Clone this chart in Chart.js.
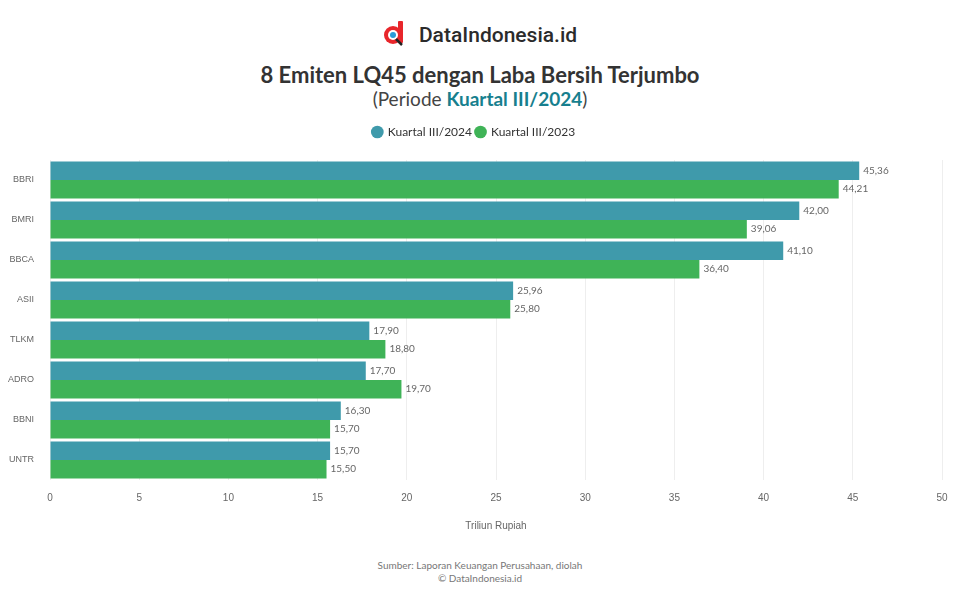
<!DOCTYPE html>
<html>
<head>
<meta charset="utf-8">
<script src="https://cdn.jsdelivr.net/npm/chart.js@4"></script>
<style>
  html, body { margin: 0; padding: 0; background: #fff; width: 960px; height: 600px; overflow: hidden; font-family: Lato, "Open Sans", sans-serif; }
  #brand { position: absolute; top: 21px; left: 0; width: 960px; text-align: center; font-family: Roboto, sans-serif; font-weight: 500; font-size: 21px; color: #2b2b2b; }
  #brand svg { vertical-align: -5px; margin-right: 12px; }
  #title { position: absolute; top: 61px; left: 0; width: 960px; text-align: center; font-weight: 700; font-size: 22px; color: #333; }
  #subtitle { position: absolute; top: 87px; left: 0; width: 960px; text-align: center; font-size: 19px; color: #444; }
  #subtitle b { color: #177f8e; }
  #wrap { position: absolute; top: 120px; left: 0; width: 960px; height: 416px; }
  #footer { position: absolute; top: 559px; left: 0; width: 960px; text-align: center; font-size: 10px; color: #777; line-height: 13px; }
</style>
</head>
<body>
<div id="brand"><svg width="24" height="26" viewBox="0 0 24 26"><rect x="15" y="0" width="5" height="22" rx="1" fill="#e8262b"/><circle cx="10" cy="14" r="9" fill="#e8262b"/><circle cx="10" cy="14" r="5" fill="#fff"/><circle cx="10" cy="14" r="3" fill="#2a9bd8"/><line x1="13" y1="18" x2="19" y2="24" stroke="#222" stroke-width="2.5"/></svg>DataIndonesia.id</div>
<div id="title">8 Emiten LQ45 dengan Laba Bersih Terjumbo</div>
<div id="subtitle">(Periode <b>Kuartal III/2024</b>)</div>
<div id="wrap"><canvas id="c"></canvas></div>
<div id="footer">Sumber: Laporan Keuangan Perusahaan, diolah<br>© DataIndonesia.id</div>
<script>
const categories = ["BBRI", "BMRI", "BBCA", "ASII", "TLKM", "ADRO", "BBNI", "UNTR"];
const series2024 = [45.36, 42.0, 41.1, 25.96, 17.9, 17.7, 16.3, 15.7];
const series2023 = [44.21, 39.06, 36.4, 25.8, 18.8, 19.7, 15.7, 15.5];
const seriesNames = ["Kuartal III/2024", "Kuartal III/2023"];
const xTicks = [0, 5, 10, 15, 20, 25, 30, 35, 40, 45, 50];

const labelPlugin = {
  id: 'valLabels',
  afterDatasetsDraw(chart) {
    const ctx = chart.ctx;
    ctx.save();
    ctx.font = '10px Lato, sans-serif';
    ctx.fillStyle = '#666';
    ctx.textBaseline = 'middle';
    ctx.textAlign = 'left';
    chart.data.datasets.forEach((ds, i) => {
      const meta = chart.getDatasetMeta(i);
      meta.data.forEach((bar, j) => {
        const v = ds.data[j];
        ctx.fillText(v.toFixed(2).replace('.', ','), bar.x + 4, bar.y);
      });
    });
    ctx.restore();
  }
};

const legendMargin = {
  id: 'legendMargin',
  beforeInit(chart) {
    const orig = chart.legend.fit;
    chart.legend.fit = function () { orig.bind(chart.legend)(); this.height += 12; };
  }
};

new Chart(document.getElementById('c'), {
  type: 'bar',
  data: {
    labels: categories,
    datasets: [
      { label: seriesNames[0], data: series2024, backgroundColor: '#3f9aab', borderWidth: 0 },
      { label: seriesNames[1], data: series2023, backgroundColor: '#3fb357', borderWidth: 0 }
    ]
  },
  options: {
    indexAxis: 'y',
    responsive: true,
    maintainAspectRatio: false,
    animation: false,
    layout: { padding: { left: 6, right: 18, top: 2, bottom: 0 } },
    datasets: { bar: { categoryPercentage: 0.92, barPercentage: 1.0 } },
    plugins: {
      legend: {
        position: 'top',
        labels: {
          usePointStyle: true, pointStyle: 'circle', boxWidth: 9, boxHeight: 9,
          padding: 4, color: '#333', font: { size: 12, family: 'Lato, sans-serif' }
        }
      },
      tooltip: { enabled: false }
    },
    scales: {
      x: {
        min: 0, max: 50,
        afterBuildTicks: (axis) => { axis.ticks = xTicks.map(v => ({ value: v })); },
        grid: { color: '#eeeeee', drawTicks: false },
        border: { display: false },
        ticks: { color: '#666', font: { size: 10 }, padding: 12, callback: v => v },
        title: { display: true, text: 'Triliun Rupiah', color: '#666', font: { size: 10 }, padding: { top: 4 } }
      },
      y: {
        grid: { display: false },
        border: { display: false },
        afterFit: (axis) => { axis.width = 44; },
        ticks: { color: '#666', font: { size: 9 }, padding: 8 }
      }
    }
  },
  plugins: [labelPlugin, legendMargin]
});
</script>
</body>
</html>
